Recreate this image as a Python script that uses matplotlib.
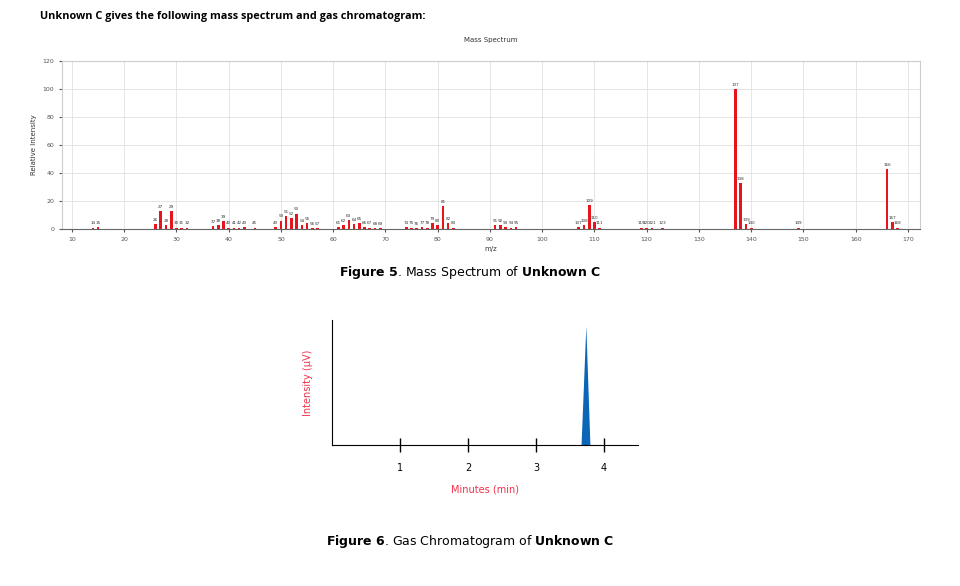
import matplotlib
matplotlib.use("Agg")
import matplotlib.pyplot as plt

# mass spectrum peaks: m/z and relative intensity
mz = [14, 15, 26, 27, 28, 29, 30, 31, 32, 37, 38, 39, 40, 41, 42, 43, 45, 49, 50, 51, 52, 53,
      54, 55, 56, 57, 61, 62, 63, 64, 65, 66, 67, 68, 69, 74, 75, 76, 77, 78, 79, 80, 81, 82, 83,
      91, 92, 93, 94, 95, 107, 108, 109, 110, 111, 119, 120, 121, 123, 137, 138, 139, 140, 149,
      166, 167, 168]
intensity = [1, 1.5, 3.8, 12.6, 3, 12.6, 1, 1, 1, 2, 3, 5.5, 1, 1, 1, 1.5, 1, 1.5, 6, 9.5, 7.9, 11,
             2.5, 4.3, 0.6, 0.6, 1.5, 3, 6.7, 3.5, 4, 1.5, 1, 0.7, 0.7, 1.5, 1, 0.8, 1.5, 1, 4, 3,
             16.7, 4, 1, 3, 2.5, 1.5, 1, 1.5, 1.5, 3, 17, 5.2, 1, 1, 1, 1, 1, 100, 32.6, 3.5, 1, 1,
             43, 5, 1]
ms_xticks = list(range(10, 171, 10))
ms_yticks = [0, 20, 40, 60, 80, 100, 120]

# gas chromatogram: single peak
gc_time = [3.67, 3.74, 3.80]
gc_signal = [0, 0.95, 0]
gc_xticks = [1, 2, 3, 4]

W, H = 960, 586
fig = plt.figure(figsize=(W / 100, H / 100), dpi=100)
fig.text(40 / W, 1 - 17 / H, "Unknown C gives the following mass spectrum and gas chromatogram:",
         fontsize=7.8, fontweight="bold", family="Open Sans", va="center")

# ---- mass spectrum ----
ax = fig.add_axes([62 / W, 1 - 229 / H, (920 - 62) / W, (229 - 61) / H])
ax.bar(mz, intensity, width=0.5, color="#e8141c", zorder=3)
for m, v in zip(mz, intensity):
    ax.text(m, v + 1.5, str(m), fontsize=3, ha="center", va="bottom", color="#333")
ax.set_xlim(8.1, 172.3)
ax.set_ylim(0, 120)
ax.set_xticks(ms_xticks)
ax.set_yticks(ms_yticks)
ax.tick_params(labelsize=4.5, colors="#555", length=2)
ax.grid(color="#e0e0e0", lw=0.6, zorder=0)
for s in ["top", "right", "left"]:
    ax.spines[s].set_color("#ccc")
ax.spines["bottom"].set_color("#666")
ax.set_xlabel("m/z", fontsize=5, color="#333", labelpad=3)
ax.set_ylabel("Relative Intensity", fontsize=5, color="#333")
ax.set_title("Mass Spectrum", fontsize=5, color="#333", pad=14)

fig.text(470 / W, 1 - 273 / H, r"$\bf{Figure\ 5}$. Mass Spectrum of $\bf{Unknown\ C}$",
         fontsize=9, ha="center", va="center")

# ---- gas chromatogram ----
gx = fig.add_axes([332 / W, 1 - 445 / H, (638 - 332) / W, (445 - 320) / H])
gx.fill(gc_time, gc_signal, color="#0b66b8", lw=0)
gx.set_xlim(0, 4.5)
gx.set_ylim(0, 1)
gx.set_xticks(gc_xticks)
gx.set_yticks([])
gx.tick_params(axis="x", direction="inout", length=10, width=1, labelsize=7, pad=8)
gx.spines["top"].set_visible(False)
gx.spines["right"].set_visible(False)
gx.set_xlabel("Minutes (min)", fontsize=7, color="#f0324a", labelpad=8)
gx.set_ylabel("Intensity (\u00b5V)", fontsize=7, color="#f0324a", labelpad=14)

fig.text(470 / W, 1 - 542 / H, r"$\bf{Figure\ 6}$. Gas Chromatogram of $\bf{Unknown\ C}$",
         fontsize=9, ha="center", va="center")

fig.savefig("out.png", dpi=100)
